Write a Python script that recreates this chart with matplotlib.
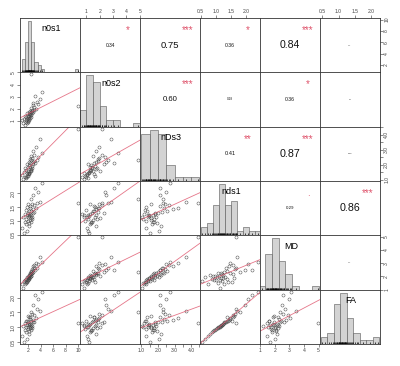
import matplotlib
matplotlib.use("Agg")
import matplotlib.pyplot as plt
import numpy as np

names = ["n0s1", "n0s2", "nDs3", "nds1", "MD", "FA"]

# 44 subjects, last one is the big outlier on n0s1 / MD
n0s1 = [1.05, 1.2, 1.3, 1.45, 1.55, 1.6, 1.65, 1.7, 1.75, 1.8, 1.85,
        1.9, 1.95, 2.0, 2.05, 2.08, 2.1, 2.15, 2.18, 2.2, 2.25, 2.28,
        2.3, 2.35, 2.38, 2.4, 2.45, 2.48, 2.5, 2.55, 2.6, 2.65, 2.7,
        2.75, 2.8, 2.88, 2.95, 3.1, 3.25, 3.4, 3.6, 3.85, 4.2, 9.95]
n0s2 = [1.05, 0.8, 1.2, 0.7, 1.45, 0.95, 1.1, 1.3, 0.85, 1.62, 1.15,
        1.02, 1.4, 0.9, 1.25, 1.75, 1.12, 1.55, 1.38, 1.18, 1.85, 1.48,
        1.28, 1.6, 2.05, 1.35, 1.52, 1.7, 4.85, 1.65, 1.92, 1.8, 2.3,
        1.72, 2.45, 1.88, 2.15, 3.1, 1.97, 2.6, 2.4, 2.85, 3.4, 2.2]
nDs3 = [1.3, 1.05, 1.52, 1.15, 1.75, 1.2, 1.1, 1.65, 1.42, 1.25, 2.05,
        1.38, 1.85, 1.28, 1.58, 2.2, 1.45, 1.35, 1.95, 1.48, 2.38, 1.6,
        1.82, 2.12, 1.55, 1.68, 2.55, 1.7, 2.28, 1.9, 2.42, 1.78, 2.02,
        2.9, 2.15, 2.25, 2.65, 2.1, 3.2, 2.32, 2.48, 3.7, 2.75, 4.4]
nds1 = [0.75, 1.15, 0.55, 1.26, 0.95, 1.4, 1.08, 0.88, 1.2, 1.52, 0.65,
        1.13, 1.29, 1.0, 1.6, 0.8, 1.23, 1.35, 0.92, 1.18, 1.46, 1.03,
        1.25, 1.55, 1.11, 0.98, 1.38, 1.21, 1.8, 1.16, 1.62, 1.06, 1.28,
        1.43, 1.95, 1.32, 1.58, 2.2, 1.48, 1.65, 2.05, 1.69, 2.38, 1.67]
MD = [1.5, 1.2, 1.68, 1.45, 1.8, 1.6, 1.55, 1.83, 1.7, 1.62, 2.0,
      1.78, 1.98, 1.75, 1.93, 2.16, 1.9, 1.87, 2.08, 1.95, 2.33, 2.03,
      2.13, 2.23, 2.05, 2.1, 2.45, 2.2, 2.4, 2.28, 2.6, 2.26, 2.37,
      2.8, 2.5, 2.65, 2.88, 2.55, 3.05, 2.7, 2.95, 3.45, 3.15, 4.95]
FA = [0.7, 1.03, 0.5, 1.15, 0.9, 1.22, 1.0, 0.83, 1.08, 1.2, 0.6,
      1.02, 1.18, 0.94, 1.38, 0.78, 1.1, 1.33, 0.87, 1.06, 1.27, 0.96,
      1.12, 1.35, 1.01, 0.92, 1.21, 1.09, 1.5, 1.04, 1.43, 0.98, 1.16,
      1.24, 1.75, 1.19, 1.4, 2.1, 1.3, 1.6, 1.95, 1.55, 2.2, 1.14]

# correlation shown in upper panels (row, col, r, significance)
cor_row = [0, 0, 0, 0, 0, 1, 1, 1, 1, 2, 2, 2, 3, 3, 4]
cor_col = [1, 2, 3, 4, 5, 2, 3, 4, 5, 3, 4, 5, 4, 5, 5]
cor_r = [0.34, 0.75, 0.36, 0.84, -0.03, 0.60, 0.18, 0.36, 0.04,
         0.41, 0.87, 0.10, 0.29, 0.86, -0.02]
cor_sig = ["*", "***", "*", "***", "", "***", "", "*", "",
           "**", "***", "", ".", "***", ""]

# histogram bins
bin_start = [1.0, 0.5, 1.0, 0.5, 0.95, 0.45]
bin_width = [0.5, 0.5, 0.5, 0.2, 0.45, 0.2]
bin_count = [18, 9, 7, 10, 10, 9]

# axis ticks
tick_vals = [[2, 4, 6, 8, 10], [1, 2, 3, 4, 5],
             [1.0, 1.5, 2.0, 2.5, 3.0, 3.5, 4.0, 4.5],
             [0.5, 1.0, 1.5, 2.0], [1, 2, 3, 4, 5], [0.5, 1.0, 1.5, 2.0]]
tick_labs = [["2", "4", "6", "8", "10"], ["1", "2", "3", "4", "5"],
             ["1.0", "", "2.0", "", "3.0", "", "4.0", ""],
             ["0.5", "1.0", "1.5", "2.0"], ["1", "2", "3", "4", "5"],
             ["0.5", "1.0", "1.5", "2.0"]]

plt.rcParams['font.family'] = ['Liberation Sans', 'DejaVu Sans']
RED = '#DF536B'

data = [np.array(v) for v in [n0s1, n0s2, nDs3, nds1, MD, FA]]
lims = []
for v in data:
    pad = 0.04 * (v.max() - v.min())
    lims.append((v.min() - pad, v.max() + pad))

fig, axes = plt.subplots(6, 6, figsize=(4, 3.66), dpi=100)
fig.subplots_adjust(left=0.05, right=0.95, top=0.951, bottom=0.06,
                    wspace=0, hspace=0)

for i in range(6):
    for j in range(6):
        ax = axes[i, j]
        ax.set_xticks([])
        ax.set_yticks([])
        for s in ax.spines.values():
            s.set_linewidth(0.6)
            s.set_color('#333333')
        ax.set_xlim(lims[j])
        if i == j:
            v = data[i]
            edges = bin_start[i] + bin_width[i] * np.arange(bin_count[i] + 1)
            counts, _, _ = ax.hist(v, bins=edges, color='#d3d3d3',
                                   edgecolor='#555555', linewidth=0.4)
            top = counts.max() * 1.06
            ax.set_ylim(0, top)
            ax.vlines(v, 0, top * 0.035, color='black', linewidth=0.5)
            ax.text(0.52, 0.8, names[i], transform=ax.transAxes,
                    ha='center', va='center', fontsize=6.5)
        elif i > j:
            ax.set_ylim(lims[i])
            x, y = data[j], data[i]
            ax.plot(x, y, 'o', mfc='none', mec='#444444', mew=0.35, ms=2.2)
            m, b = np.polyfit(x, y, 1)
            ax.axline((0, b), slope=m, color=RED, linewidth=0.6, alpha=0.8)
        else:
            ax.set_ylim(lims[i])

for r, c, val, sig in zip(cor_row, cor_col, cor_r, cor_sig):
    ax = axes[r, c]
    ax.text(0.5, 0.5, f"{abs(val):.2f}" if val >= 0 else f"{val:.2f}",
            transform=ax.transAxes, ha='center', va='center',
            fontsize=0.8 + 8.0 * abs(val), color='#111111')
    if sig:
        ax.text(0.8, 0.78, sig, transform=ax.transAxes, ha='center',
                va='center', fontsize=7, color=RED)

tick_kw = dict(length=2, width=0.4, labelsize=3.6, pad=1,
               colors='#333333', labelcolor='#444444')
for j in (1, 3, 5):
    ax = axes[0, j]
    ax.xaxis.set_ticks_position('top')
    ax.set_xticks(tick_vals[j])
    ax.set_xticklabels(tick_labs[j])
    ax.tick_params(axis='x', **tick_kw)
for j in (0, 2, 4):
    ax = axes[5, j]
    ax.set_xticks(tick_vals[j])
    ax.set_xticklabels(tick_labs[j])
    ax.tick_params(axis='x', **tick_kw)
for i in (1, 3, 5):
    ax = axes[i, 0]
    ax.set_yticks(tick_vals[i])
    ax.set_yticklabels(tick_labs[i], rotation=90, va='center')
    ax.tick_params(axis='y', **tick_kw)
for i in (0, 2, 4):
    ax = axes[i, 5]
    ax.yaxis.set_ticks_position('right')
    ax.set_yticks(tick_vals[i])
    ax.set_yticklabels(tick_labs[i], rotation=90, va='center')
    ax.tick_params(axis='y', **tick_kw)

fig.savefig("out.png", dpi=100)
